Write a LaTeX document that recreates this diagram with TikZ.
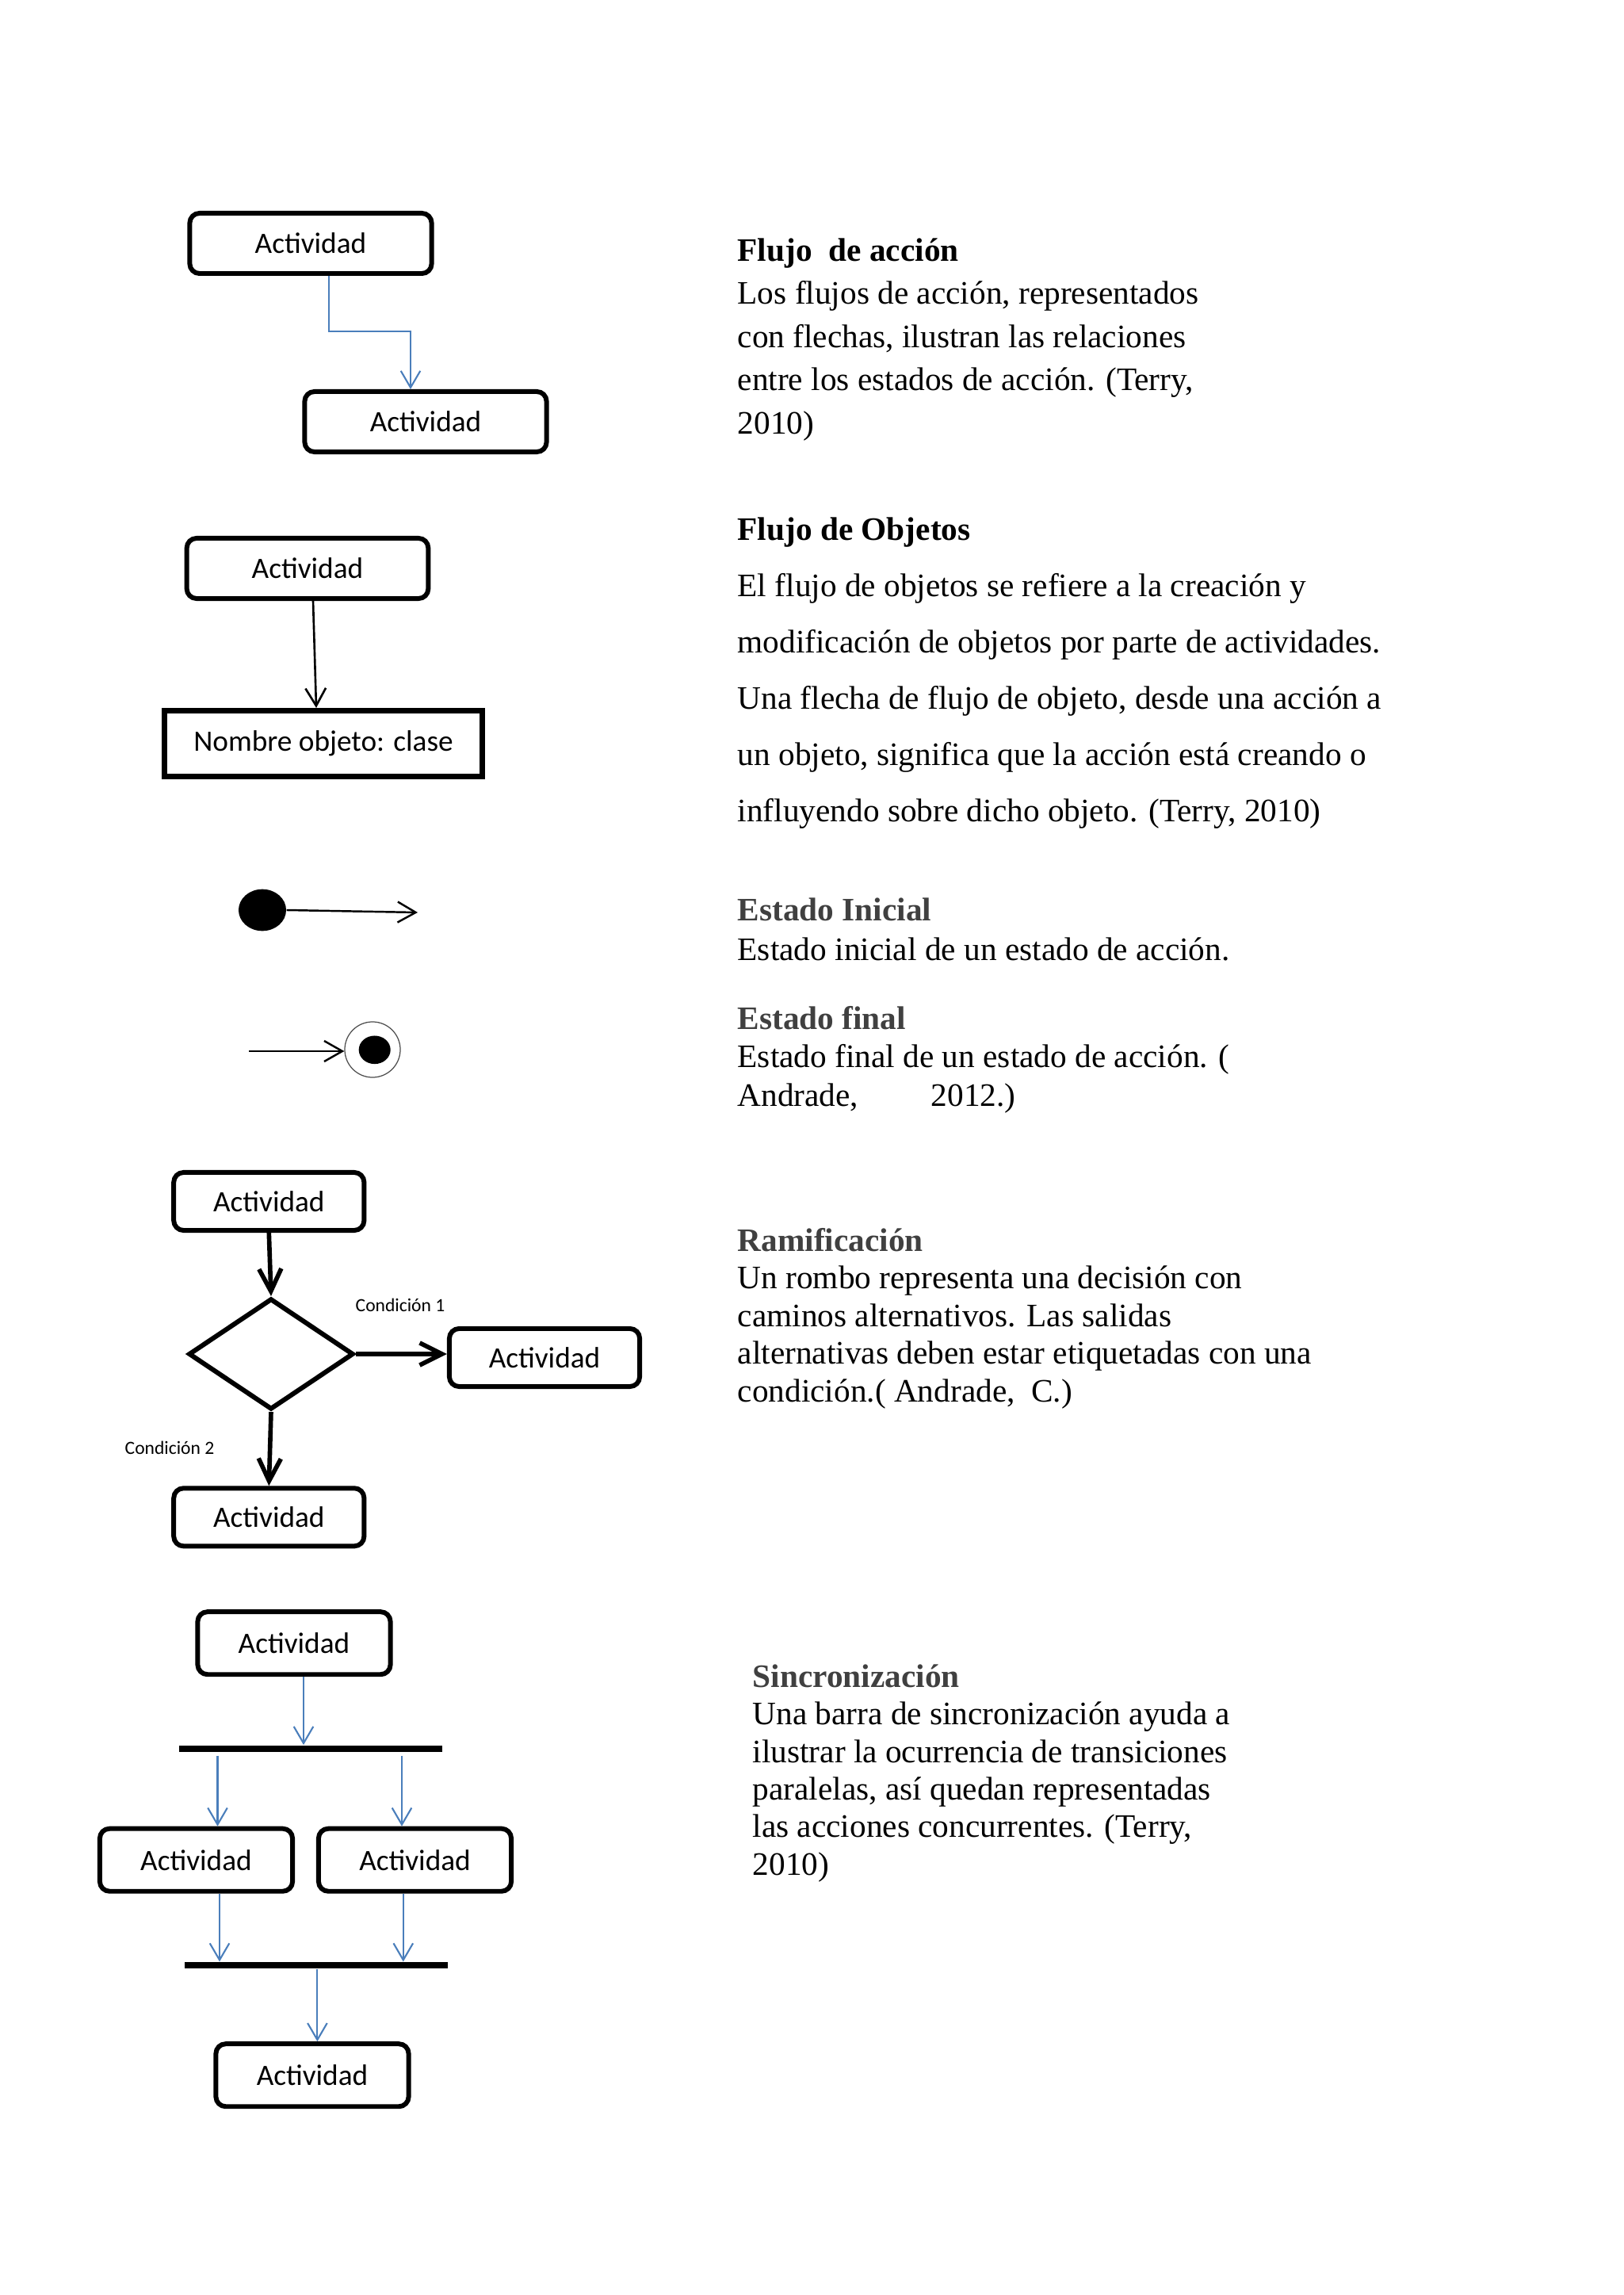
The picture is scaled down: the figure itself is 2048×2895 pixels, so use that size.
\documentclass[tikz,border=0pt]{standalone}
\usepackage{fontspec}
\setmainfont{Liberation Serif}
\newfontfamily\boxfont{Carlito}
\usetikzlibrary{shapes.geometric,arrows.meta}
\definecolor{flowblue}{HTML}{4A7EBB}
\definecolor{headgray}{HTML}{404040}

\begin{document}
\begin{tikzpicture}[x=0.01cm, y=-0.01cm, every node/.style={inner sep=0pt},
  act/.style={draw, line width=1.7pt, rounded corners=3.5pt, minimum width=3.05cm,
    minimum height=0.76cm, font=\boxfont\fontsize{10.6}{12}\selectfont},
  actn/.style={act, minimum width=2.4cm, minimum height=0.73cm},
  actw/.style={act, minimum width=2.43cm, minimum height=0.79cm},
  objbox/.style={draw, line width=2pt, minimum width=4.005cm, minimum height=0.83cm,
    font=\boxfont\fontsize{10.6}{12}\selectfont},
  dot/.style={ellipse, fill=black},
  syncbar/.style={fill=black, minimum height=0.08cm, minimum width=3.32cm},
  cond/.style={anchor=base west, font=\boxfont\fontsize{6.7}{8}\selectfont},
  para/.style={align=left, anchor=base west},
  blueflow/.style={draw=flowblue, line width=0.6pt, -{Straight Barb[length=6pt, width=7pt]}},
  objflow/.style={line width=0.75pt, -{Straight Barb[length=6.3pt, width=7.3pt]}},
  stateflow/.style={line width=0.7pt, -{Straight Barb[length=6.5pt, width=7.4pt]}},
  decflow/.style={line width=1.6pt, -{Straight Barb[length=8pt, width=8pt]}}]
  \useasboundingbox (0,0) rectangle (2048,2895);

  % flujo de accion
  \node[act] (a1) at (392,307) {Actividad};
  \node[act] (a2) at (537,532) {Actividad};
  \draw[blueflow] ([xshift=0.23cm]a1.south) -- ++(0,70) -| ([xshift=-0.19cm]a2.north);

  % flujo de objetos
  \node[act, minimum width=3.045cm] (b1) at (388,717) {Actividad};
  \node[objbox] (b2) at (408,938) {Nombre objeto: clase};
  \draw[objflow] ([xshift=0.07cm]b1.south) -- ([xshift=-0.09cm]b2.north);

  % estado inicial
  \node[dot, minimum width=0.6cm, minimum height=0.526cm] (ini) at (331,1148) {};
  \coordinate (iniend) at (527,1151);
  \draw[stateflow] (ini.east) -- (iniend);

  % estado final
  \coordinate (finstart) at (314,1326);
  \node[circle, draw=black!70, line width=0.35pt, minimum size=0.7cm] (fin) at (470,1324) {};
  \node[dot, minimum width=0.4cm, minimum height=0.356cm] (fincore) at (472.7,1324.3) {};
  \draw[stateflow] (finstart) -- (finstart -| fin.west);

  % ramificacion
  \node[actn] (c1) at (339.3,1515.5) {Actividad};
  \node[diamond, draw, line width=1.7pt, minimum width=2.08cm, minimum height=1.4cm] (dec) at (342,1708) {};
  \node[actn] (c2) at (687,1712.5) {Actividad};
  \node[actn] (c3) at (339.3,1913.8) {Actividad};
  \draw[decflow] (c1.south) -- (dec.north);
  \draw[decflow] (dec.east) -- (dec.east -| c2.west);
  \draw[decflow] (dec.south) -- (c3.north);
  \node[cond] (cond1) at (448,1654) {Condición 1};
  \node[cond] (cond2) at (157,1834) {Condición 2};

  % sincronizacion
  \node[actw] (d1) at (371,2072.7) {Actividad};
  \node[syncbar] (bar1) at (392,2205.8) {};
  \node[actw] (d2) at (247.5,2346.2) {Actividad};
  \node[actw] (d3) at (523.5,2346.2) {Actividad};
  \node[syncbar] (bar2) at (399,2479.2) {};
  \node[actw] (d4) at (394,2617.7) {Actividad};
  \draw[blueflow] ([xshift=0.12cm]d1.south) -- ([xshift=0.12cm]d1.south |- bar1.north);
  \draw[blueflow] ([xshift=0.27cm,yshift=-0.04cm]d2.north |- bar1.south) -- ([xshift=0.27cm]d2.north);
  \draw[blueflow] ([xshift=-0.165cm,yshift=-0.04cm]d3.north |- bar1.south) -- ([xshift=-0.165cm]d3.north);
  \draw[blueflow] ([xshift=0.295cm]d2.south) -- ([xshift=0.295cm]d2.south |- bar2.north);
  \draw[blueflow] ([xshift=-0.147cm]d3.south) -- ([xshift=-0.147cm]d3.south |- bar2.north);
  \draw[blueflow] ([xshift=0.064cm]d4.north |- bar2.south) -- ([xshift=0.064cm]d4.north);

  % descriptions
  \node[para, font=\fontsize{11.75}{15.5}\selectfont] (t1) at (930,547.3)
    {\textbf{Flujo\ \ de acción}\\Los flujos de acción, representados\\con flechas, ilustran las relaciones\\entre los estados de acción. (Terry,\\2010)};
  \node[para, font=\fontsize{11.75}{20.2}\selectfont] (t2) at (930,1036.7)
    {\textbf{Flujo de Objetos}\\El flujo de objetos se refiere a la creación y\\modificación de objetos por parte de actividades.\\Una flecha de flujo de objeto, desde una acción a\\un objeto, significa que la acción está creando o\\influyendo sobre dicho objeto. (Terry, 2010)};
  \node[para, font=\fontsize{11.75}{14.2}\selectfont] (t3) at (930,1211.7)
    {\textcolor{headgray}{\textbf{Estado Inicial}}\\Estado inicial de un estado de acción.};
  \node[para, font=\fontsize{11.75}{13.66}\selectfont] (t4) at (930,1395)
    {\textcolor{headgray}{\textbf{Estado final}}\\Estado final de un estado de acción. (\\Andrade,\hspace{26pt}2012.)};
  \node[para, font=\fontsize{11.75}{13.5}\selectfont] (t5) at (930,1768.3)
    {\textcolor{headgray}{\textbf{Ramificación}}\\Un rombo representa una decisión con\\caminos alternativos. Las salidas\\alternativas deben estar etiquetadas con una\\condición.( Andrade,\ \ C.)};
  \node[para, font=\fontsize{11.75}{13.45}\selectfont] (t6) at (949,2365)
    {\textcolor{headgray}{\textbf{Sincronización}}\\Una barra de sincronización ayuda a\\ilustrar la ocurrencia de transiciones\\paralelas, así quedan representadas\\las acciones concurrentes. (Terry,\\2010)};
\end{tikzpicture}
\end{document}
